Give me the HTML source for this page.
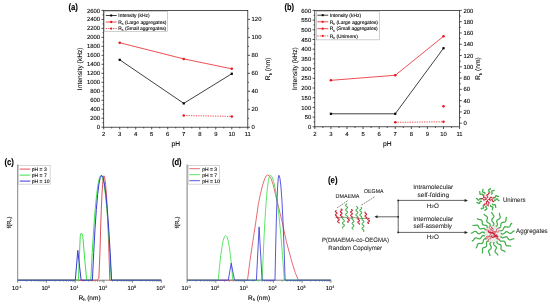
<!DOCTYPE html><html><head><meta charset="utf-8"><title>Figure</title><style>html,body{margin:0;padding:0;background:#fff}svg{display:block;filter:blur(0.28px)}</style></head><body>
<svg width="550" height="304" viewBox="0 0 550 304" font-family="Liberation Sans, sans-serif" text-rendering="geometricPrecision">
<style>text{stroke:#000;stroke-width:0.1px;stroke-linejoin:round}text.e{stroke:#222;stroke-width:0.06px}</style>
<rect width="550" height="304" fill="#fff"/>
<text x="68.4" y="10.4" font-size="9.2" text-anchor="start" fill="#000" font-weight="bold" textLength="9.6" lengthAdjust="spacingAndGlyphs">(a)</text>
<text x="284.4" y="10.4" font-size="9.2" text-anchor="start" fill="#000" font-weight="bold" textLength="9.6" lengthAdjust="spacingAndGlyphs">(b)</text>
<text x="4.4" y="164.6" font-size="9.2" text-anchor="start" fill="#000" font-weight="bold" textLength="9.6" lengthAdjust="spacingAndGlyphs">(c)</text>
<text x="172" y="164.6" font-size="9.2" text-anchor="start" fill="#000" font-weight="bold" textLength="9.6" lengthAdjust="spacingAndGlyphs">(d)</text>
<text x="328" y="183.4" font-size="9.2" text-anchor="start" fill="#000" font-weight="bold" textLength="9.6" lengthAdjust="spacingAndGlyphs">(e)</text>
<rect x="103.7" y="10.4" width="144.1" height="116.8" fill="none" stroke="#1a1a1a" stroke-width="0.75"/>
<line x1="101.5" y1="127.2" x2="103.7" y2="127.2" stroke="#1a1a1a" stroke-width="0.75" />
<text x="100.1" y="129.3" font-size="5.9" text-anchor="end" fill="#000" font-weight="normal" >0</text>
<line x1="102.5" y1="122.71" x2="103.7" y2="122.71" stroke="#1a1a1a" stroke-width="0.75" />
<line x1="101.5" y1="118.22" x2="103.7" y2="118.22" stroke="#1a1a1a" stroke-width="0.75" />
<text x="100.1" y="120.32" font-size="5.9" text-anchor="end" fill="#000" font-weight="normal" >200</text>
<line x1="102.5" y1="113.72" x2="103.7" y2="113.72" stroke="#1a1a1a" stroke-width="0.75" />
<line x1="101.5" y1="109.23" x2="103.7" y2="109.23" stroke="#1a1a1a" stroke-width="0.75" />
<text x="100.1" y="111.33" font-size="5.9" text-anchor="end" fill="#000" font-weight="normal" >400</text>
<line x1="102.5" y1="104.74" x2="103.7" y2="104.74" stroke="#1a1a1a" stroke-width="0.75" />
<line x1="101.5" y1="100.25" x2="103.7" y2="100.25" stroke="#1a1a1a" stroke-width="0.75" />
<text x="100.1" y="102.35" font-size="5.9" text-anchor="end" fill="#000" font-weight="normal" >600</text>
<line x1="102.5" y1="95.75" x2="103.7" y2="95.75" stroke="#1a1a1a" stroke-width="0.75" />
<line x1="101.5" y1="91.26" x2="103.7" y2="91.26" stroke="#1a1a1a" stroke-width="0.75" />
<text x="100.1" y="93.36" font-size="5.9" text-anchor="end" fill="#000" font-weight="normal" >800</text>
<line x1="102.5" y1="86.77" x2="103.7" y2="86.77" stroke="#1a1a1a" stroke-width="0.75" />
<line x1="101.5" y1="82.28" x2="103.7" y2="82.28" stroke="#1a1a1a" stroke-width="0.75" />
<text x="100.1" y="84.38" font-size="5.9" text-anchor="end" fill="#000" font-weight="normal" >1000</text>
<line x1="102.5" y1="77.78" x2="103.7" y2="77.78" stroke="#1a1a1a" stroke-width="0.75" />
<line x1="101.5" y1="73.29" x2="103.7" y2="73.29" stroke="#1a1a1a" stroke-width="0.75" />
<text x="100.1" y="75.39" font-size="5.9" text-anchor="end" fill="#000" font-weight="normal" >1200</text>
<line x1="102.5" y1="68.8" x2="103.7" y2="68.8" stroke="#1a1a1a" stroke-width="0.75" />
<line x1="101.5" y1="64.31" x2="103.7" y2="64.31" stroke="#1a1a1a" stroke-width="0.75" />
<text x="100.1" y="66.41" font-size="5.9" text-anchor="end" fill="#000" font-weight="normal" >1400</text>
<line x1="102.5" y1="59.82" x2="103.7" y2="59.82" stroke="#1a1a1a" stroke-width="0.75" />
<line x1="101.5" y1="55.32" x2="103.7" y2="55.32" stroke="#1a1a1a" stroke-width="0.75" />
<text x="100.1" y="57.42" font-size="5.9" text-anchor="end" fill="#000" font-weight="normal" >1600</text>
<line x1="102.5" y1="50.83" x2="103.7" y2="50.83" stroke="#1a1a1a" stroke-width="0.75" />
<line x1="101.5" y1="46.34" x2="103.7" y2="46.34" stroke="#1a1a1a" stroke-width="0.75" />
<text x="100.1" y="48.44" font-size="5.9" text-anchor="end" fill="#000" font-weight="normal" >1800</text>
<line x1="102.5" y1="41.85" x2="103.7" y2="41.85" stroke="#1a1a1a" stroke-width="0.75" />
<line x1="101.5" y1="37.35" x2="103.7" y2="37.35" stroke="#1a1a1a" stroke-width="0.75" />
<text x="100.1" y="39.45" font-size="5.9" text-anchor="end" fill="#000" font-weight="normal" >2000</text>
<line x1="102.5" y1="32.86" x2="103.7" y2="32.86" stroke="#1a1a1a" stroke-width="0.75" />
<line x1="101.5" y1="28.37" x2="103.7" y2="28.37" stroke="#1a1a1a" stroke-width="0.75" />
<text x="100.1" y="30.47" font-size="5.9" text-anchor="end" fill="#000" font-weight="normal" >2200</text>
<line x1="102.5" y1="23.88" x2="103.7" y2="23.88" stroke="#1a1a1a" stroke-width="0.75" />
<line x1="101.5" y1="19.38" x2="103.7" y2="19.38" stroke="#1a1a1a" stroke-width="0.75" />
<text x="100.1" y="21.48" font-size="5.9" text-anchor="end" fill="#000" font-weight="normal" >2400</text>
<line x1="102.5" y1="14.89" x2="103.7" y2="14.89" stroke="#1a1a1a" stroke-width="0.75" />
<line x1="101.5" y1="10.4" x2="103.7" y2="10.4" stroke="#1a1a1a" stroke-width="0.75" />
<text x="100.1" y="12.5" font-size="5.9" text-anchor="end" fill="#000" font-weight="normal" >2600</text>
<line x1="103.7" y1="127.2" x2="103.7" y2="129.4" stroke="#1a1a1a" stroke-width="0.75" />
<text x="103.7" y="136.15" font-size="5.9" text-anchor="middle" fill="#000" font-weight="normal" >2</text>
<line x1="111.71" y1="127.2" x2="111.71" y2="128.4" stroke="#1a1a1a" stroke-width="0.75" />
<line x1="119.71" y1="127.2" x2="119.71" y2="129.4" stroke="#1a1a1a" stroke-width="0.75" />
<text x="119.71" y="136.15" font-size="5.9" text-anchor="middle" fill="#000" font-weight="normal" >3</text>
<line x1="127.72" y1="127.2" x2="127.72" y2="128.4" stroke="#1a1a1a" stroke-width="0.75" />
<line x1="135.72" y1="127.2" x2="135.72" y2="129.4" stroke="#1a1a1a" stroke-width="0.75" />
<text x="135.72" y="136.15" font-size="5.9" text-anchor="middle" fill="#000" font-weight="normal" >4</text>
<line x1="143.73" y1="127.2" x2="143.73" y2="128.4" stroke="#1a1a1a" stroke-width="0.75" />
<line x1="151.73" y1="127.2" x2="151.73" y2="129.4" stroke="#1a1a1a" stroke-width="0.75" />
<text x="151.73" y="136.15" font-size="5.9" text-anchor="middle" fill="#000" font-weight="normal" >5</text>
<line x1="159.74" y1="127.2" x2="159.74" y2="128.4" stroke="#1a1a1a" stroke-width="0.75" />
<line x1="167.74" y1="127.2" x2="167.74" y2="129.4" stroke="#1a1a1a" stroke-width="0.75" />
<text x="167.74" y="136.15" font-size="5.9" text-anchor="middle" fill="#000" font-weight="normal" >6</text>
<line x1="175.75" y1="127.2" x2="175.75" y2="128.4" stroke="#1a1a1a" stroke-width="0.75" />
<line x1="183.76" y1="127.2" x2="183.76" y2="129.4" stroke="#1a1a1a" stroke-width="0.75" />
<text x="183.76" y="136.15" font-size="5.9" text-anchor="middle" fill="#000" font-weight="normal" >7</text>
<line x1="191.76" y1="127.2" x2="191.76" y2="128.4" stroke="#1a1a1a" stroke-width="0.75" />
<line x1="199.77" y1="127.2" x2="199.77" y2="129.4" stroke="#1a1a1a" stroke-width="0.75" />
<text x="199.77" y="136.15" font-size="5.9" text-anchor="middle" fill="#000" font-weight="normal" >8</text>
<line x1="207.77" y1="127.2" x2="207.77" y2="128.4" stroke="#1a1a1a" stroke-width="0.75" />
<line x1="215.78" y1="127.2" x2="215.78" y2="129.4" stroke="#1a1a1a" stroke-width="0.75" />
<text x="215.78" y="136.15" font-size="5.9" text-anchor="middle" fill="#000" font-weight="normal" >9</text>
<line x1="223.78" y1="127.2" x2="223.78" y2="128.4" stroke="#1a1a1a" stroke-width="0.75" />
<line x1="231.79" y1="127.2" x2="231.79" y2="129.4" stroke="#1a1a1a" stroke-width="0.75" />
<text x="231.79" y="136.15" font-size="5.9" text-anchor="middle" fill="#000" font-weight="normal" >10</text>
<line x1="239.79" y1="127.2" x2="239.79" y2="128.4" stroke="#1a1a1a" stroke-width="0.75" />
<line x1="247.8" y1="127.2" x2="247.8" y2="129.4" stroke="#1a1a1a" stroke-width="0.75" />
<text x="247.8" y="136.15" font-size="5.9" text-anchor="middle" fill="#000" font-weight="normal" >11</text>
<line x1="247.8" y1="127.2" x2="250" y2="127.2" stroke="#1a1a1a" stroke-width="0.75" />
<text x="251.6" y="129.3" font-size="5.9" text-anchor="start" fill="#000" font-weight="normal" >0</text>
<line x1="247.8" y1="109.23" x2="250" y2="109.23" stroke="#1a1a1a" stroke-width="0.75" />
<text x="251.6" y="111.33" font-size="5.9" text-anchor="start" fill="#000" font-weight="normal" >20</text>
<line x1="247.8" y1="91.26" x2="250" y2="91.26" stroke="#1a1a1a" stroke-width="0.75" />
<text x="251.6" y="93.36" font-size="5.9" text-anchor="start" fill="#000" font-weight="normal" >40</text>
<line x1="247.8" y1="73.29" x2="250" y2="73.29" stroke="#1a1a1a" stroke-width="0.75" />
<text x="251.6" y="75.39" font-size="5.9" text-anchor="start" fill="#000" font-weight="normal" >60</text>
<line x1="247.8" y1="55.32" x2="250" y2="55.32" stroke="#1a1a1a" stroke-width="0.75" />
<text x="251.6" y="57.42" font-size="5.9" text-anchor="start" fill="#000" font-weight="normal" >80</text>
<line x1="247.8" y1="37.35" x2="250" y2="37.35" stroke="#1a1a1a" stroke-width="0.75" />
<text x="251.6" y="39.45" font-size="5.9" text-anchor="start" fill="#000" font-weight="normal" >100</text>
<line x1="247.8" y1="19.38" x2="250" y2="19.38" stroke="#1a1a1a" stroke-width="0.75" />
<text x="251.6" y="21.48" font-size="5.9" text-anchor="start" fill="#000" font-weight="normal" >120</text>
<line x1="247.8" y1="118.22" x2="249" y2="118.22" stroke="#1a1a1a" stroke-width="0.75" />
<line x1="247.8" y1="100.25" x2="249" y2="100.25" stroke="#1a1a1a" stroke-width="0.75" />
<line x1="247.8" y1="82.28" x2="249" y2="82.28" stroke="#1a1a1a" stroke-width="0.75" />
<line x1="247.8" y1="64.31" x2="249" y2="64.31" stroke="#1a1a1a" stroke-width="0.75" />
<line x1="247.8" y1="46.34" x2="249" y2="46.34" stroke="#1a1a1a" stroke-width="0.75" />
<line x1="247.8" y1="28.37" x2="249" y2="28.37" stroke="#1a1a1a" stroke-width="0.75" />
<text x="82.2" y="68.8" font-size="6.7" text-anchor="middle" fill="#000" font-weight="normal" transform="rotate(-90 82.2 68.8)" >Intensity (kHz)</text>
<text x="270.3" y="68.8" font-size="6.7" text-anchor="middle" fill="#000" font-weight="normal" transform="rotate(-90 270.3 68.8)" >R<tspan font-size="4.15" dy="1.47">h</tspan><tspan dy="-1.47"> (nm)</tspan></text>
<text x="175.75" y="146.4" font-size="6.7" text-anchor="middle" fill="#000" font-weight="normal" >pH</text>
<polyline fill="none" stroke="#000" stroke-width="0.75" stroke-linejoin="round" points="119.71,59.82 183.76,103.39 231.79,73.74" />
<rect x="118.61" y="58.72" width="2.2" height="2.2" fill="#000"/>
<rect x="182.66" y="102.29" width="2.2" height="2.2" fill="#000"/>
<rect x="230.69" y="72.64" width="2.2" height="2.2" fill="#000"/>
<polyline fill="none" stroke="#e8141c" stroke-width="0.75" stroke-linejoin="round" points="119.71,42.74 183.76,58.92 231.79,68.8" />
<circle cx="119.71" cy="42.74" r="1.25" fill="#e8141c"/>
<circle cx="183.76" cy="58.92" r="1.25" fill="#e8141c"/>
<circle cx="231.79" cy="68.8" r="1.25" fill="#e8141c"/>
<polyline fill="none" stroke="#e8141c" stroke-width="0.75" stroke-linejoin="round" points="183.76,115.52 231.79,116.42" stroke-dasharray="1.3 1.1"/>
<circle cx="183.76" cy="115.52" r="1.25" fill="#e8141c"/>
<circle cx="231.79" cy="116.42" r="1.25" fill="#e8141c"/>
<rect x="104.7" y="11.5" width="62.9" height="20.1" fill="#fff" stroke="#888" stroke-width="0.4"/>
<line x1="105.8" y1="15.5" x2="116.7" y2="15.5" stroke="#000" stroke-width="0.75" />
<rect x="110.2" y="14.5" width="2" height="2" fill="#000"/>
<text x="118.3" y="17.25" font-size="4.9" text-anchor="start" fill="#000" font-weight="normal" >Intensity (kHz)</text>
<line x1="105.8" y1="22" x2="116.7" y2="22" stroke="#e8141c" stroke-width="0.75" />
<circle cx="111.2" cy="22" r="1.15" fill="#e8141c"/>
<text x="118.3" y="23.75" font-size="4.9" text-anchor="start" fill="#000" font-weight="normal" >R<tspan font-size="3.04" dy="1.08">h</tspan><tspan dy="-1.08"> (Large aggregates)</tspan></text>
<line x1="105.8" y1="28.6" x2="116.7" y2="28.6" stroke="#e8141c" stroke-width="0.75" stroke-dasharray="1.3 1.1"/>
<circle cx="111.2" cy="28.6" r="1.15" fill="#e8141c"/>
<text x="118.3" y="30.35" font-size="4.9" text-anchor="start" fill="#000" font-weight="normal" >R<tspan font-size="3.04" dy="1.08">h</tspan><tspan dy="-1.08"> (Small aggregates)</tspan></text>
<rect x="314.8" y="10.4" width="144.8" height="116.4" fill="none" stroke="#1a1a1a" stroke-width="0.75"/>
<line x1="312.6" y1="126.8" x2="314.8" y2="126.8" stroke="#1a1a1a" stroke-width="0.75" />
<text x="311.2" y="128.9" font-size="5.9" text-anchor="end" fill="#000" font-weight="normal" >0</text>
<line x1="313.6" y1="121.95" x2="314.8" y2="121.95" stroke="#1a1a1a" stroke-width="0.75" />
<line x1="312.6" y1="117.1" x2="314.8" y2="117.1" stroke="#1a1a1a" stroke-width="0.75" />
<text x="311.2" y="119.2" font-size="5.9" text-anchor="end" fill="#000" font-weight="normal" >50</text>
<line x1="313.6" y1="112.25" x2="314.8" y2="112.25" stroke="#1a1a1a" stroke-width="0.75" />
<line x1="312.6" y1="107.4" x2="314.8" y2="107.4" stroke="#1a1a1a" stroke-width="0.75" />
<text x="311.2" y="109.5" font-size="5.9" text-anchor="end" fill="#000" font-weight="normal" >100</text>
<line x1="313.6" y1="102.55" x2="314.8" y2="102.55" stroke="#1a1a1a" stroke-width="0.75" />
<line x1="312.6" y1="97.7" x2="314.8" y2="97.7" stroke="#1a1a1a" stroke-width="0.75" />
<text x="311.2" y="99.8" font-size="5.9" text-anchor="end" fill="#000" font-weight="normal" >150</text>
<line x1="313.6" y1="92.85" x2="314.8" y2="92.85" stroke="#1a1a1a" stroke-width="0.75" />
<line x1="312.6" y1="88" x2="314.8" y2="88" stroke="#1a1a1a" stroke-width="0.75" />
<text x="311.2" y="90.1" font-size="5.9" text-anchor="end" fill="#000" font-weight="normal" >200</text>
<line x1="313.6" y1="83.15" x2="314.8" y2="83.15" stroke="#1a1a1a" stroke-width="0.75" />
<line x1="312.6" y1="78.3" x2="314.8" y2="78.3" stroke="#1a1a1a" stroke-width="0.75" />
<text x="311.2" y="80.4" font-size="5.9" text-anchor="end" fill="#000" font-weight="normal" >250</text>
<line x1="313.6" y1="73.45" x2="314.8" y2="73.45" stroke="#1a1a1a" stroke-width="0.75" />
<line x1="312.6" y1="68.6" x2="314.8" y2="68.6" stroke="#1a1a1a" stroke-width="0.75" />
<text x="311.2" y="70.7" font-size="5.9" text-anchor="end" fill="#000" font-weight="normal" >300</text>
<line x1="313.6" y1="63.75" x2="314.8" y2="63.75" stroke="#1a1a1a" stroke-width="0.75" />
<line x1="312.6" y1="58.9" x2="314.8" y2="58.9" stroke="#1a1a1a" stroke-width="0.75" />
<text x="311.2" y="61" font-size="5.9" text-anchor="end" fill="#000" font-weight="normal" >350</text>
<line x1="313.6" y1="54.05" x2="314.8" y2="54.05" stroke="#1a1a1a" stroke-width="0.75" />
<line x1="312.6" y1="49.2" x2="314.8" y2="49.2" stroke="#1a1a1a" stroke-width="0.75" />
<text x="311.2" y="51.3" font-size="5.9" text-anchor="end" fill="#000" font-weight="normal" >400</text>
<line x1="313.6" y1="44.35" x2="314.8" y2="44.35" stroke="#1a1a1a" stroke-width="0.75" />
<line x1="312.6" y1="39.5" x2="314.8" y2="39.5" stroke="#1a1a1a" stroke-width="0.75" />
<text x="311.2" y="41.6" font-size="5.9" text-anchor="end" fill="#000" font-weight="normal" >450</text>
<line x1="313.6" y1="34.65" x2="314.8" y2="34.65" stroke="#1a1a1a" stroke-width="0.75" />
<line x1="312.6" y1="29.8" x2="314.8" y2="29.8" stroke="#1a1a1a" stroke-width="0.75" />
<text x="311.2" y="31.9" font-size="5.9" text-anchor="end" fill="#000" font-weight="normal" >500</text>
<line x1="313.6" y1="24.95" x2="314.8" y2="24.95" stroke="#1a1a1a" stroke-width="0.75" />
<line x1="312.6" y1="20.1" x2="314.8" y2="20.1" stroke="#1a1a1a" stroke-width="0.75" />
<text x="311.2" y="22.2" font-size="5.9" text-anchor="end" fill="#000" font-weight="normal" >550</text>
<line x1="313.6" y1="15.25" x2="314.8" y2="15.25" stroke="#1a1a1a" stroke-width="0.75" />
<line x1="312.6" y1="10.4" x2="314.8" y2="10.4" stroke="#1a1a1a" stroke-width="0.75" />
<text x="311.2" y="12.5" font-size="5.9" text-anchor="end" fill="#000" font-weight="normal" >600</text>
<line x1="314.8" y1="126.8" x2="314.8" y2="129" stroke="#1a1a1a" stroke-width="0.75" />
<text x="314.8" y="135.75" font-size="5.9" text-anchor="middle" fill="#000" font-weight="normal" >2</text>
<line x1="322.84" y1="126.8" x2="322.84" y2="128" stroke="#1a1a1a" stroke-width="0.75" />
<line x1="330.89" y1="126.8" x2="330.89" y2="129" stroke="#1a1a1a" stroke-width="0.75" />
<text x="330.89" y="135.75" font-size="5.9" text-anchor="middle" fill="#000" font-weight="normal" >3</text>
<line x1="338.93" y1="126.8" x2="338.93" y2="128" stroke="#1a1a1a" stroke-width="0.75" />
<line x1="346.98" y1="126.8" x2="346.98" y2="129" stroke="#1a1a1a" stroke-width="0.75" />
<text x="346.98" y="135.75" font-size="5.9" text-anchor="middle" fill="#000" font-weight="normal" >4</text>
<line x1="355.02" y1="126.8" x2="355.02" y2="128" stroke="#1a1a1a" stroke-width="0.75" />
<line x1="363.07" y1="126.8" x2="363.07" y2="129" stroke="#1a1a1a" stroke-width="0.75" />
<text x="363.07" y="135.75" font-size="5.9" text-anchor="middle" fill="#000" font-weight="normal" >5</text>
<line x1="371.11" y1="126.8" x2="371.11" y2="128" stroke="#1a1a1a" stroke-width="0.75" />
<line x1="379.16" y1="126.8" x2="379.16" y2="129" stroke="#1a1a1a" stroke-width="0.75" />
<text x="379.16" y="135.75" font-size="5.9" text-anchor="middle" fill="#000" font-weight="normal" >6</text>
<line x1="387.2" y1="126.8" x2="387.2" y2="128" stroke="#1a1a1a" stroke-width="0.75" />
<line x1="395.24" y1="126.8" x2="395.24" y2="129" stroke="#1a1a1a" stroke-width="0.75" />
<text x="395.24" y="135.75" font-size="5.9" text-anchor="middle" fill="#000" font-weight="normal" >7</text>
<line x1="403.29" y1="126.8" x2="403.29" y2="128" stroke="#1a1a1a" stroke-width="0.75" />
<line x1="411.33" y1="126.8" x2="411.33" y2="129" stroke="#1a1a1a" stroke-width="0.75" />
<text x="411.33" y="135.75" font-size="5.9" text-anchor="middle" fill="#000" font-weight="normal" >8</text>
<line x1="419.38" y1="126.8" x2="419.38" y2="128" stroke="#1a1a1a" stroke-width="0.75" />
<line x1="427.42" y1="126.8" x2="427.42" y2="129" stroke="#1a1a1a" stroke-width="0.75" />
<text x="427.42" y="135.75" font-size="5.9" text-anchor="middle" fill="#000" font-weight="normal" >9</text>
<line x1="435.47" y1="126.8" x2="435.47" y2="128" stroke="#1a1a1a" stroke-width="0.75" />
<line x1="443.51" y1="126.8" x2="443.51" y2="129" stroke="#1a1a1a" stroke-width="0.75" />
<text x="443.51" y="135.75" font-size="5.9" text-anchor="middle" fill="#000" font-weight="normal" >10</text>
<line x1="451.56" y1="126.8" x2="451.56" y2="128" stroke="#1a1a1a" stroke-width="0.75" />
<line x1="459.6" y1="126.8" x2="459.6" y2="129" stroke="#1a1a1a" stroke-width="0.75" />
<text x="459.6" y="135.75" font-size="5.9" text-anchor="middle" fill="#000" font-weight="normal" >11</text>
<line x1="459.6" y1="123.19" x2="461.8" y2="123.19" stroke="#1a1a1a" stroke-width="0.75" />
<text x="463.4" y="125.29" font-size="5.9" text-anchor="start" fill="#000" font-weight="normal" >0</text>
<line x1="459.6" y1="111.91" x2="461.8" y2="111.91" stroke="#1a1a1a" stroke-width="0.75" />
<text x="463.4" y="114.01" font-size="5.9" text-anchor="start" fill="#000" font-weight="normal" >20</text>
<line x1="459.6" y1="100.63" x2="461.8" y2="100.63" stroke="#1a1a1a" stroke-width="0.75" />
<text x="463.4" y="102.73" font-size="5.9" text-anchor="start" fill="#000" font-weight="normal" >40</text>
<line x1="459.6" y1="89.35" x2="461.8" y2="89.35" stroke="#1a1a1a" stroke-width="0.75" />
<text x="463.4" y="91.45" font-size="5.9" text-anchor="start" fill="#000" font-weight="normal" >60</text>
<line x1="459.6" y1="78.07" x2="461.8" y2="78.07" stroke="#1a1a1a" stroke-width="0.75" />
<text x="463.4" y="80.17" font-size="5.9" text-anchor="start" fill="#000" font-weight="normal" >80</text>
<line x1="459.6" y1="66.8" x2="461.8" y2="66.8" stroke="#1a1a1a" stroke-width="0.75" />
<text x="463.4" y="68.9" font-size="5.9" text-anchor="start" fill="#000" font-weight="normal" >100</text>
<line x1="459.6" y1="55.52" x2="461.8" y2="55.52" stroke="#1a1a1a" stroke-width="0.75" />
<text x="463.4" y="57.62" font-size="5.9" text-anchor="start" fill="#000" font-weight="normal" >120</text>
<line x1="459.6" y1="44.24" x2="461.8" y2="44.24" stroke="#1a1a1a" stroke-width="0.75" />
<text x="463.4" y="46.34" font-size="5.9" text-anchor="start" fill="#000" font-weight="normal" >140</text>
<line x1="459.6" y1="32.96" x2="461.8" y2="32.96" stroke="#1a1a1a" stroke-width="0.75" />
<text x="463.4" y="35.06" font-size="5.9" text-anchor="start" fill="#000" font-weight="normal" >160</text>
<line x1="459.6" y1="21.68" x2="461.8" y2="21.68" stroke="#1a1a1a" stroke-width="0.75" />
<text x="463.4" y="23.78" font-size="5.9" text-anchor="start" fill="#000" font-weight="normal" >180</text>
<line x1="459.6" y1="10.4" x2="461.8" y2="10.4" stroke="#1a1a1a" stroke-width="0.75" />
<text x="463.4" y="12.5" font-size="5.9" text-anchor="start" fill="#000" font-weight="normal" >200</text>
<line x1="459.6" y1="117.55" x2="460.8" y2="117.55" stroke="#1a1a1a" stroke-width="0.75" />
<line x1="459.6" y1="106.27" x2="460.8" y2="106.27" stroke="#1a1a1a" stroke-width="0.75" />
<line x1="459.6" y1="94.99" x2="460.8" y2="94.99" stroke="#1a1a1a" stroke-width="0.75" />
<line x1="459.6" y1="83.71" x2="460.8" y2="83.71" stroke="#1a1a1a" stroke-width="0.75" />
<line x1="459.6" y1="72.43" x2="460.8" y2="72.43" stroke="#1a1a1a" stroke-width="0.75" />
<line x1="459.6" y1="61.16" x2="460.8" y2="61.16" stroke="#1a1a1a" stroke-width="0.75" />
<line x1="459.6" y1="49.88" x2="460.8" y2="49.88" stroke="#1a1a1a" stroke-width="0.75" />
<line x1="459.6" y1="38.6" x2="460.8" y2="38.6" stroke="#1a1a1a" stroke-width="0.75" />
<line x1="459.6" y1="27.32" x2="460.8" y2="27.32" stroke="#1a1a1a" stroke-width="0.75" />
<line x1="459.6" y1="16.04" x2="460.8" y2="16.04" stroke="#1a1a1a" stroke-width="0.75" />
<text x="296.6" y="68.6" font-size="6.7" text-anchor="middle" fill="#000" font-weight="normal" transform="rotate(-90 296.6 68.6)" >Intensity (kHz)</text>
<text x="480.2" y="68.6" font-size="6.7" text-anchor="middle" fill="#000" font-weight="normal" transform="rotate(-90 480.2 68.6)" >R<tspan font-size="4.15" dy="1.47">h</tspan><tspan dy="-1.47"> (nm)</tspan></text>
<text x="387.2" y="146" font-size="6.7" text-anchor="middle" fill="#000" font-weight="normal" >pH</text>
<polyline fill="none" stroke="#000" stroke-width="0.75" stroke-linejoin="round" points="330.89,113.8 395.24,113.8 443.51,48.23" />
<rect x="329.79" y="112.7" width="2.2" height="2.2" fill="#000"/>
<rect x="394.14" y="112.7" width="2.2" height="2.2" fill="#000"/>
<rect x="442.41" y="47.13" width="2.2" height="2.2" fill="#000"/>
<polyline fill="none" stroke="#e8141c" stroke-width="0.75" stroke-linejoin="round" points="330.89,80.33 395.24,75.25 443.51,36.34" />
<circle cx="330.89" cy="80.33" r="1.25" fill="#e8141c"/>
<circle cx="395.24" cy="75.25" r="1.25" fill="#e8141c"/>
<circle cx="443.51" cy="36.34" r="1.25" fill="#e8141c"/>
<circle cx="443.51" cy="106.27" r="1.25" fill="#e8141c"/>
<polyline fill="none" stroke="#e8141c" stroke-width="0.75" stroke-linejoin="round" points="395.24,122.34 443.51,121.78" stroke-dasharray="1.3 1.1"/>
<circle cx="395.24" cy="122.34" r="1.25" fill="#e8141c"/>
<circle cx="443.51" cy="121.78" r="1.25" fill="#e8141c"/>
<rect x="316.2" y="11.6" width="63.2" height="28.3" fill="#fff" stroke="#888" stroke-width="0.4"/>
<line x1="317.3" y1="15.2" x2="328.2" y2="15.2" stroke="#000" stroke-width="0.75" />
<rect x="321.7" y="14.2" width="2" height="2" fill="#000"/>
<text x="329.8" y="16.95" font-size="4.9" text-anchor="start" fill="#000" font-weight="normal" >Intensity (kHz)</text>
<line x1="317.3" y1="21.8" x2="328.2" y2="21.8" stroke="#e8141c" stroke-width="0.75" />
<circle cx="322.7" cy="21.8" r="1.15" fill="#e8141c"/>
<text x="329.8" y="23.55" font-size="4.9" text-anchor="start" fill="#000" font-weight="normal" >R<tspan font-size="3.04" dy="1.08">h</tspan><tspan dy="-1.08"> (Large aggregates)</tspan></text>
<line x1="317.3" y1="28.7" x2="328.2" y2="28.7" stroke="#e8141c" stroke-width="0.75" />
<circle cx="322.7" cy="28.7" r="1.15" fill="#e8141c"/>
<text x="329.8" y="30.45" font-size="4.9" text-anchor="start" fill="#000" font-weight="normal" >R<tspan font-size="3.04" dy="1.08">h</tspan><tspan dy="-1.08"> (Small aggregates)</tspan></text>
<line x1="317.3" y1="35.9" x2="328.2" y2="35.9" stroke="#e8141c" stroke-width="0.75" stroke-dasharray="1.3 1.1"/>
<circle cx="322.7" cy="35.9" r="1.15" fill="#e8141c"/>
<text x="329.8" y="37.65" font-size="4.9" text-anchor="start" fill="#000" font-weight="normal" >R<tspan font-size="3.04" dy="1.08">h</tspan><tspan dy="-1.08"> (Unimers)</tspan></text>
<line x1="17.7" y1="164.5" x2="17.7" y2="280.2" stroke="#777" stroke-width="0.9" />
<line x1="17.7" y1="280.2" x2="161.3" y2="280.2" stroke="#777" stroke-width="0.9" />
<line x1="17.7" y1="280.2" x2="17.7" y2="282.7" stroke="#666" stroke-width="0.8" />
<text x="16.9" y="290.4" font-size="5.8" text-anchor="middle">10<tspan font-size="3.6" dy="-2.6">-1</tspan></text>
<line x1="26.35" y1="280.2" x2="26.35" y2="281.7" stroke="#666" stroke-width="0.6" />
<line x1="31.4" y1="280.2" x2="31.4" y2="281.7" stroke="#666" stroke-width="0.6" />
<line x1="34.99" y1="280.2" x2="34.99" y2="281.7" stroke="#666" stroke-width="0.6" />
<line x1="37.77" y1="280.2" x2="37.77" y2="281.7" stroke="#666" stroke-width="0.6" />
<line x1="40.05" y1="280.2" x2="40.05" y2="281.7" stroke="#666" stroke-width="0.6" />
<line x1="41.97" y1="280.2" x2="41.97" y2="281.7" stroke="#666" stroke-width="0.6" />
<line x1="43.64" y1="280.2" x2="43.64" y2="281.7" stroke="#666" stroke-width="0.6" />
<line x1="45.11" y1="280.2" x2="45.11" y2="281.7" stroke="#666" stroke-width="0.6" />
<line x1="46.42" y1="280.2" x2="46.42" y2="282.7" stroke="#666" stroke-width="0.8" />
<text x="45.62" y="290.4" font-size="5.8" text-anchor="middle">10<tspan font-size="3.6" dy="-2.6">0</tspan></text>
<line x1="55.07" y1="280.2" x2="55.07" y2="281.7" stroke="#666" stroke-width="0.6" />
<line x1="60.12" y1="280.2" x2="60.12" y2="281.7" stroke="#666" stroke-width="0.6" />
<line x1="63.71" y1="280.2" x2="63.71" y2="281.7" stroke="#666" stroke-width="0.6" />
<line x1="66.49" y1="280.2" x2="66.49" y2="281.7" stroke="#666" stroke-width="0.6" />
<line x1="68.77" y1="280.2" x2="68.77" y2="281.7" stroke="#666" stroke-width="0.6" />
<line x1="70.69" y1="280.2" x2="70.69" y2="281.7" stroke="#666" stroke-width="0.6" />
<line x1="72.36" y1="280.2" x2="72.36" y2="281.7" stroke="#666" stroke-width="0.6" />
<line x1="73.83" y1="280.2" x2="73.83" y2="281.7" stroke="#666" stroke-width="0.6" />
<line x1="75.14" y1="280.2" x2="75.14" y2="282.7" stroke="#666" stroke-width="0.8" />
<text x="74.34" y="290.4" font-size="5.8" text-anchor="middle">10<tspan font-size="3.6" dy="-2.6">1</tspan></text>
<line x1="83.79" y1="280.2" x2="83.79" y2="281.7" stroke="#666" stroke-width="0.6" />
<line x1="88.84" y1="280.2" x2="88.84" y2="281.7" stroke="#666" stroke-width="0.6" />
<line x1="92.43" y1="280.2" x2="92.43" y2="281.7" stroke="#666" stroke-width="0.6" />
<line x1="95.21" y1="280.2" x2="95.21" y2="281.7" stroke="#666" stroke-width="0.6" />
<line x1="97.49" y1="280.2" x2="97.49" y2="281.7" stroke="#666" stroke-width="0.6" />
<line x1="99.41" y1="280.2" x2="99.41" y2="281.7" stroke="#666" stroke-width="0.6" />
<line x1="101.08" y1="280.2" x2="101.08" y2="281.7" stroke="#666" stroke-width="0.6" />
<line x1="102.55" y1="280.2" x2="102.55" y2="281.7" stroke="#666" stroke-width="0.6" />
<line x1="103.86" y1="280.2" x2="103.86" y2="282.7" stroke="#666" stroke-width="0.8" />
<text x="103.06" y="290.4" font-size="5.8" text-anchor="middle">10<tspan font-size="3.6" dy="-2.6">2</tspan></text>
<line x1="112.51" y1="280.2" x2="112.51" y2="281.7" stroke="#666" stroke-width="0.6" />
<line x1="117.56" y1="280.2" x2="117.56" y2="281.7" stroke="#666" stroke-width="0.6" />
<line x1="121.15" y1="280.2" x2="121.15" y2="281.7" stroke="#666" stroke-width="0.6" />
<line x1="123.93" y1="280.2" x2="123.93" y2="281.7" stroke="#666" stroke-width="0.6" />
<line x1="126.21" y1="280.2" x2="126.21" y2="281.7" stroke="#666" stroke-width="0.6" />
<line x1="128.13" y1="280.2" x2="128.13" y2="281.7" stroke="#666" stroke-width="0.6" />
<line x1="129.8" y1="280.2" x2="129.8" y2="281.7" stroke="#666" stroke-width="0.6" />
<line x1="131.27" y1="280.2" x2="131.27" y2="281.7" stroke="#666" stroke-width="0.6" />
<line x1="132.58" y1="280.2" x2="132.58" y2="282.7" stroke="#666" stroke-width="0.8" />
<text x="131.78" y="290.4" font-size="5.8" text-anchor="middle">10<tspan font-size="3.6" dy="-2.6">3</tspan></text>
<line x1="141.23" y1="280.2" x2="141.23" y2="281.7" stroke="#666" stroke-width="0.6" />
<line x1="146.28" y1="280.2" x2="146.28" y2="281.7" stroke="#666" stroke-width="0.6" />
<line x1="149.87" y1="280.2" x2="149.87" y2="281.7" stroke="#666" stroke-width="0.6" />
<line x1="152.65" y1="280.2" x2="152.65" y2="281.7" stroke="#666" stroke-width="0.6" />
<line x1="154.93" y1="280.2" x2="154.93" y2="281.7" stroke="#666" stroke-width="0.6" />
<line x1="156.85" y1="280.2" x2="156.85" y2="281.7" stroke="#666" stroke-width="0.6" />
<line x1="158.52" y1="280.2" x2="158.52" y2="281.7" stroke="#666" stroke-width="0.6" />
<line x1="159.99" y1="280.2" x2="159.99" y2="281.7" stroke="#666" stroke-width="0.6" />
<line x1="161.3" y1="280.2" x2="161.3" y2="282.7" stroke="#666" stroke-width="0.8" />
<text x="160.5" y="290.4" font-size="5.8" text-anchor="middle">10<tspan font-size="3.6" dy="-2.6">4</tspan></text>
<text x="89.5" y="299.8" font-size="6.5" text-anchor="middle" fill="#000" font-weight="normal" >R<tspan font-size="4.03" dy="1.43">h</tspan><tspan dy="-1.43"> (nm)</tspan></text>
<text x="10.6" y="222.35" font-size="5.8" text-anchor="middle" fill="#000" font-weight="normal" transform="rotate(-90 10.6 222.35)" >f(R<tspan font-size="3.6" dy="1.3">h</tspan><tspan dy="-1.3">)</tspan></text>
<polyline fill="none" stroke="#e0525a" stroke-width="1.0" stroke-linejoin="round" points="17.7,280.2 97,280.2 98.8,278.6 99.96,252.5 100.61,229.07 101.27,209.89 101.93,194.98 102.59,184.32 103.24,177.93 103.9,175.8 104.74,177.93 105.59,184.32 106.43,194.98 107.27,209.89 108.11,229.07 108.96,252.5 109.8,280.2 161.3,280.2" />
<polyline fill="none" stroke="#3fe04a" stroke-width="1.0" stroke-linejoin="round" points="17.7,280.2 78.4,280.2 79.4,256 80.3,235 81.5,233 82.8,236 84.6,258 86.7,280.2 90.8,280.2 92.26,252.37 93.71,228.82 95.17,209.55 96.63,194.57 98.09,183.86 99.54,177.44 101,175.3 102.47,177.44 103.94,183.86 105.41,194.57 106.89,209.55 108.36,228.82 109.83,252.37 111.3,280.2 161.3,280.2" />
<polyline fill="none" stroke="#3a3ad8" stroke-width="1.0" stroke-linejoin="round" points="17.7,280.2 75.3,280.2 77.8,250.4 81.1,280.2 92.4,280.2 93.71,252.37 95.03,228.82 96.34,209.55 97.66,194.57 98.97,183.86 100.29,177.44 101.6,175.3 103.03,177.44 104.46,183.86 105.89,194.57 107.31,209.55 108.74,228.82 110.17,252.37 111.6,280.2 161.3,280.2" />
<rect x="18.5" y="165.5" width="31.6" height="18.6" fill="#fff" stroke="#999" stroke-width="0.4"/>
<line x1="19.7" y1="169.1" x2="30.3" y2="169.1" stroke="#e0525a" stroke-width="1.0" />
<text x="31.8" y="170.9" font-size="5.0" text-anchor="start" fill="#000" font-weight="normal" >pH = 3</text>
<line x1="19.7" y1="175.1" x2="30.3" y2="175.1" stroke="#3fe04a" stroke-width="1.0" />
<text x="31.8" y="176.9" font-size="5.0" text-anchor="start" fill="#000" font-weight="normal" >pH = 7</text>
<line x1="19.7" y1="181.1" x2="30.3" y2="181.1" stroke="#3a3ad8" stroke-width="1.0" />
<text x="31.8" y="182.9" font-size="5.0" text-anchor="start" fill="#000" font-weight="normal" >pH = 10</text>
<line x1="187.1" y1="164.5" x2="187.1" y2="280.2" stroke="#5a5a5a" stroke-width="0.8" />
<line x1="187.1" y1="280.2" x2="330.9" y2="280.2" stroke="#5a5a5a" stroke-width="0.8" />
<line x1="187.1" y1="280.2" x2="187.1" y2="282.7" stroke="#666" stroke-width="0.8" />
<text x="186.3" y="290.4" font-size="5.8" text-anchor="middle">10<tspan font-size="3.6" dy="-2.6">-1</tspan></text>
<line x1="195.76" y1="280.2" x2="195.76" y2="281.7" stroke="#666" stroke-width="0.6" />
<line x1="200.82" y1="280.2" x2="200.82" y2="281.7" stroke="#666" stroke-width="0.6" />
<line x1="204.42" y1="280.2" x2="204.42" y2="281.7" stroke="#666" stroke-width="0.6" />
<line x1="207.2" y1="280.2" x2="207.2" y2="281.7" stroke="#666" stroke-width="0.6" />
<line x1="209.48" y1="280.2" x2="209.48" y2="281.7" stroke="#666" stroke-width="0.6" />
<line x1="211.41" y1="280.2" x2="211.41" y2="281.7" stroke="#666" stroke-width="0.6" />
<line x1="213.07" y1="280.2" x2="213.07" y2="281.7" stroke="#666" stroke-width="0.6" />
<line x1="214.54" y1="280.2" x2="214.54" y2="281.7" stroke="#666" stroke-width="0.6" />
<line x1="215.86" y1="280.2" x2="215.86" y2="282.7" stroke="#666" stroke-width="0.8" />
<text x="215.06" y="290.4" font-size="5.8" text-anchor="middle">10<tspan font-size="3.6" dy="-2.6">0</tspan></text>
<line x1="224.52" y1="280.2" x2="224.52" y2="281.7" stroke="#666" stroke-width="0.6" />
<line x1="229.58" y1="280.2" x2="229.58" y2="281.7" stroke="#666" stroke-width="0.6" />
<line x1="233.18" y1="280.2" x2="233.18" y2="281.7" stroke="#666" stroke-width="0.6" />
<line x1="235.96" y1="280.2" x2="235.96" y2="281.7" stroke="#666" stroke-width="0.6" />
<line x1="238.24" y1="280.2" x2="238.24" y2="281.7" stroke="#666" stroke-width="0.6" />
<line x1="240.17" y1="280.2" x2="240.17" y2="281.7" stroke="#666" stroke-width="0.6" />
<line x1="241.83" y1="280.2" x2="241.83" y2="281.7" stroke="#666" stroke-width="0.6" />
<line x1="243.3" y1="280.2" x2="243.3" y2="281.7" stroke="#666" stroke-width="0.6" />
<line x1="244.62" y1="280.2" x2="244.62" y2="282.7" stroke="#666" stroke-width="0.8" />
<text x="243.82" y="290.4" font-size="5.8" text-anchor="middle">10<tspan font-size="3.6" dy="-2.6">1</tspan></text>
<line x1="253.28" y1="280.2" x2="253.28" y2="281.7" stroke="#666" stroke-width="0.6" />
<line x1="258.34" y1="280.2" x2="258.34" y2="281.7" stroke="#666" stroke-width="0.6" />
<line x1="261.94" y1="280.2" x2="261.94" y2="281.7" stroke="#666" stroke-width="0.6" />
<line x1="264.72" y1="280.2" x2="264.72" y2="281.7" stroke="#666" stroke-width="0.6" />
<line x1="267" y1="280.2" x2="267" y2="281.7" stroke="#666" stroke-width="0.6" />
<line x1="268.93" y1="280.2" x2="268.93" y2="281.7" stroke="#666" stroke-width="0.6" />
<line x1="270.59" y1="280.2" x2="270.59" y2="281.7" stroke="#666" stroke-width="0.6" />
<line x1="272.06" y1="280.2" x2="272.06" y2="281.7" stroke="#666" stroke-width="0.6" />
<line x1="273.38" y1="280.2" x2="273.38" y2="282.7" stroke="#666" stroke-width="0.8" />
<text x="272.58" y="290.4" font-size="5.8" text-anchor="middle">10<tspan font-size="3.6" dy="-2.6">2</tspan></text>
<line x1="282.04" y1="280.2" x2="282.04" y2="281.7" stroke="#666" stroke-width="0.6" />
<line x1="287.1" y1="280.2" x2="287.1" y2="281.7" stroke="#666" stroke-width="0.6" />
<line x1="290.7" y1="280.2" x2="290.7" y2="281.7" stroke="#666" stroke-width="0.6" />
<line x1="293.48" y1="280.2" x2="293.48" y2="281.7" stroke="#666" stroke-width="0.6" />
<line x1="295.76" y1="280.2" x2="295.76" y2="281.7" stroke="#666" stroke-width="0.6" />
<line x1="297.69" y1="280.2" x2="297.69" y2="281.7" stroke="#666" stroke-width="0.6" />
<line x1="299.35" y1="280.2" x2="299.35" y2="281.7" stroke="#666" stroke-width="0.6" />
<line x1="300.82" y1="280.2" x2="300.82" y2="281.7" stroke="#666" stroke-width="0.6" />
<line x1="302.14" y1="280.2" x2="302.14" y2="282.7" stroke="#666" stroke-width="0.8" />
<text x="301.34" y="290.4" font-size="5.8" text-anchor="middle">10<tspan font-size="3.6" dy="-2.6">3</tspan></text>
<line x1="310.8" y1="280.2" x2="310.8" y2="281.7" stroke="#666" stroke-width="0.6" />
<line x1="315.86" y1="280.2" x2="315.86" y2="281.7" stroke="#666" stroke-width="0.6" />
<line x1="319.46" y1="280.2" x2="319.46" y2="281.7" stroke="#666" stroke-width="0.6" />
<line x1="322.24" y1="280.2" x2="322.24" y2="281.7" stroke="#666" stroke-width="0.6" />
<line x1="324.52" y1="280.2" x2="324.52" y2="281.7" stroke="#666" stroke-width="0.6" />
<line x1="326.45" y1="280.2" x2="326.45" y2="281.7" stroke="#666" stroke-width="0.6" />
<line x1="328.11" y1="280.2" x2="328.11" y2="281.7" stroke="#666" stroke-width="0.6" />
<line x1="329.58" y1="280.2" x2="329.58" y2="281.7" stroke="#666" stroke-width="0.6" />
<line x1="330.9" y1="280.2" x2="330.9" y2="282.7" stroke="#666" stroke-width="0.8" />
<text x="330.1" y="290.4" font-size="5.8" text-anchor="middle">10<tspan font-size="3.6" dy="-2.6">4</tspan></text>
<text x="259" y="299.8" font-size="6.5" text-anchor="middle" fill="#000" font-weight="normal" >R<tspan font-size="4.03" dy="1.43">h</tspan><tspan dy="-1.43"> (nm)</tspan></text>
<text x="178.6" y="222.35" font-size="5.8" text-anchor="middle" fill="#000" font-weight="normal" transform="rotate(-90 178.6 222.35)" >f(R<tspan font-size="3.6" dy="1.3">h</tspan><tspan dy="-1.3">)</tspan></text>
<polyline fill="none" stroke="#e0525a" stroke-width="0.85" stroke-linejoin="round" points="187.1,280.2 247.5,280.2 249.9,261.4 252.8,241.7 255.8,222 258.3,204.4 260.3,194.6 262.7,184.7 264.7,178.8 266.2,175.9 267.6,174.9 269.2,175.8 271.2,178.8 273.1,184.7 275.5,194.6 277.9,204.4 282.2,222 286.4,241.7 291.7,261.4 295.2,272.5 298.3,280.2 330.9,280.2" />
<polyline fill="none" stroke="#3fe04a" stroke-width="0.85" stroke-linejoin="round" points="187.1,280.2 218.3,280.2 219.53,266.51 220.77,255.31 222,246.6 223.23,240.38 224.47,236.64 225.7,235.4 226.88,236.64 228.07,240.38 229.25,246.6 230.43,255.31 231.62,266.51 232.8,280.2 262.2,280.2 263.2,255.57 264.2,234.22 265.2,216.15 266.2,201.38 267.2,189.88 268.2,181.67 269.2,176.74 270.2,175.1 271.96,176.74 273.73,181.67 275.49,189.88 277.25,201.38 279.01,216.15 280.77,234.22 282.54,255.57 284.3,280.2 330.9,280.2" />
<polyline fill="none" stroke="#3a3ad8" stroke-width="0.85" stroke-linejoin="round" points="187.1,280.2 228.3,280.2 231.2,263.2 234.5,280.2 256.4,280.2 259.1,226.9 262.1,280.2 275,280.2 275.65,248.15 276.3,221.92 276.95,201.53 277.6,186.96 278.25,178.21 278.9,175.3 279.93,178.21 280.97,186.96 282,201.53 283.03,221.92 284.07,248.15 285.1,280.2 330.9,280.2" />
<rect x="188.1" y="165.5" width="31.6" height="18.6" fill="#fff" stroke="#999" stroke-width="0.4"/>
<line x1="189.3" y1="168.7" x2="199.9" y2="168.7" stroke="#e0525a" stroke-width="0.85" />
<text x="202.2" y="170.5" font-size="5.0" text-anchor="start" fill="#000" font-weight="normal" >pH = 3</text>
<line x1="189.3" y1="174.7" x2="199.9" y2="174.7" stroke="#3fe04a" stroke-width="0.85" />
<text x="202.2" y="176.5" font-size="5.0" text-anchor="start" fill="#000" font-weight="normal" >pH = 7</text>
<line x1="189.3" y1="180.7" x2="199.9" y2="180.7" stroke="#3a3ad8" stroke-width="0.85" />
<text x="202.2" y="182.5" font-size="5.0" text-anchor="start" fill="#000" font-weight="normal" >pH = 10</text>
<text x="347.5" y="198.2" font-size="5.6" text-anchor="middle" fill="#222" class="e" textLength="24" lengthAdjust="spacingAndGlyphs">DMAEMA</text>
<text x="373.8" y="193.1" font-size="5.6" text-anchor="middle" fill="#222" class="e" textLength="19.5" lengthAdjust="spacingAndGlyphs">OEGMA</text>
<text x="355.5" y="241.5" font-size="6.3" text-anchor="middle" fill="#222" class="e" textLength="67" lengthAdjust="spacingAndGlyphs">P(DMAEMA-co-OEGMA)</text>
<text x="355.2" y="249.7" font-size="6.3" text-anchor="middle" fill="#222" class="e" textLength="53.8" lengthAdjust="spacingAndGlyphs">Random Copolymer</text>
<text x="433.2" y="189.4" font-size="6.3" text-anchor="middle" fill="#222" class="e" textLength="40" lengthAdjust="spacingAndGlyphs">Intramolecular</text>
<text x="433.3" y="197.4" font-size="6.3" text-anchor="middle" fill="#222" class="e" textLength="31.6" lengthAdjust="spacingAndGlyphs">self-folding</text>
<text x="433.2" y="220.5" font-size="6.3" text-anchor="middle" fill="#222" class="e" textLength="40" lengthAdjust="spacingAndGlyphs">Intermolecular</text>
<text x="432.8" y="228.4" font-size="6.3" text-anchor="middle" fill="#222" class="e" textLength="38.4" lengthAdjust="spacingAndGlyphs">self-assembly</text>
<text x="432.8" y="208.0" font-size="6.3" text-anchor="middle" fill="#222" class="e">H<tspan font-size="4.6">2</tspan>O</text>
<text x="432.8" y="239.3" font-size="6.3" text-anchor="middle" fill="#222" class="e">H<tspan font-size="4.6">2</tspan>O</text>
<text x="502.9" y="201.9" font-size="6.4" text-anchor="start" fill="#222" class="e" textLength="22.7" lengthAdjust="spacingAndGlyphs">Unimers</text>
<text x="516.1" y="233" font-size="6.6" text-anchor="start" fill="#222" class="e" textLength="31.6" lengthAdjust="spacingAndGlyphs">Aggregates</text>
<path d="M347.6 200.8 L336.4 208.2 M374.4 196.9 L361.2 205.3" stroke="#333" stroke-width="0.6" stroke-dasharray="1.8 0.9" fill="none"/>
<path d="M398.2 200.4 V232.4 M398.2 200.4 H465.5 M398.2 232.4 H465.5 M398.2 216.8 H376" stroke="#222" stroke-width="0.7" fill="none"/>
<path d="M468 200.4 l-3.4 -1.5 v3z M468 232.4 l-3.4 -1.5 v3z M374.4 216.8 l3.2 -1.5 v3z" fill="#222"/>
<circle cx="398.2" cy="200.4" r="0.9" fill="#222"/>
<circle cx="398.2" cy="216.8" r="0.9" fill="#222"/>
<circle cx="398.2" cy="232.4" r="0.9" fill="#222"/>
<path d="M335.4 217.2 L336.35 217.41 L337.31 217.58 L338.27 217.67 L339.23 217.66 L340.2 217.57 L341.17 217.43 L342.13 217.3 L343.1 217.21 L344.06 217.2 L345.02 217.29 L345.98 217.45 L346.93 217.67 L347.89 217.88 L348.84 218.05 L349.8 218.13 L350.77 218.13 L351.73 218.04 L352.7 217.9 L353.67 217.76 L354.63 217.67 L355.6 217.67 L356.56 217.75 L357.51 217.92 L358.47 218.13 L359.42 218.35 L360.38 218.51 L361.34 218.6 L362.3 218.59 L363.27 218.5 L364.23 218.37 L365.2 218.23 L366.17 218.14 L367.13 218.13 L368.09 218.22 L369.05 218.39 L370 218.6" stroke="#6b5a3a" stroke-width="0.7" fill="none"/>
<path d="M336.45 217.22 L336.83 216.94 L337.03 216.65 L337.01 216.36 L336.76 216.07 L336.35 215.78 L335.91 215.5 L335.54 215.21 L335.36 214.92 L335.41 214.63 L335.68 214.34 L336.09 214.06 L336.53 213.77 L336.88 213.48 L337.05 213.19 L336.97 212.9 L336.69 212.62 L336.26 212.33 L335.83 212.04 L335.49 211.75 L335.35 211.46 L335.45 211.18 L335.75 210.89 L336.18 210.6 M341.45 217.43 L341.83 217.14 L342.03 216.85 L342 216.56 L341.74 216.27 L341.33 215.98 L340.88 215.69 L340.52 215.39 L340.36 215.1 L340.42 214.81 L340.71 214.52 L341.14 214.23 L341.58 213.94 L341.92 213.65 L342.05 213.36 L341.94 213.07 L341.63 212.78 L341.19 212.49 L340.76 212.2 L340.45 211.91 L340.35 211.62 L340.49 211.33 L340.83 211.03 L341.27 210.74 L341.7 210.45 L341.98 210.16 L342.04 209.87 L341.87 209.58 L341.51 209.29 L341.06 209 M351.75 217.85 L352.13 217.56 L352.33 217.27 L352.31 216.99 L352.06 216.7 L351.65 216.41 L351.21 216.12 L350.84 215.84 L350.66 215.55 L350.71 215.26 L350.98 214.97 L351.39 214.68 L351.83 214.4 L352.18 214.11 L352.35 213.82 L352.27 213.53 L351.99 213.24 L351.57 212.96 L351.13 212.67 L350.79 212.38 L350.65 212.09 L350.75 211.8 L351.05 211.52 L351.48 211.23 L351.91 210.94 L352.23 210.65 L352.35 210.36 L352.23 210.08 L351.91 209.79 L351.48 209.5 M366.05 218.44 L366.43 218.15 L366.63 217.86 L366.61 217.57 L366.36 217.28 L365.95 217 L365.51 216.71 L365.14 216.42 L364.96 216.13 L365.01 215.84 L365.28 215.56 L365.69 215.27 L366.13 214.98 L366.48 214.69 L366.65 214.4 L366.57 214.12 L366.29 213.83 L365.87 213.54 L365.43 213.25 L365.09 212.96 L364.95 212.68 L365.05 212.39 L365.35 212.1 M338.15 217.31 L337.78 217.6 L337.57 217.88 L337.59 218.17 L337.83 218.45 L338.22 218.74 L338.66 219.02 L339.03 219.3 L339.23 219.59 L339.21 219.87 L338.97 220.16 L338.57 220.44 L338.13 220.73 L337.76 221.01 L337.57 221.29 L337.59 221.58 L337.84 221.86 L338.24 222.15 L338.68 222.43 L339.04 222.72 L339.23 223 M348.25 217.73 L347.87 218.02 L347.67 218.31 L347.7 218.6 L347.96 218.9 L348.38 219.19 L348.83 219.48 L349.18 219.77 L349.35 220.06 L349.27 220.36 L348.97 220.65 L348.54 220.94 L348.1 221.23 L347.77 221.52 L347.65 221.82 L347.77 222.11 L348.1 222.4 M358.35 218.14 L357.98 218.43 L357.77 218.71 L357.79 218.99 L358.02 219.28 L358.41 219.56 L358.85 219.84 L359.23 220.13 L359.43 220.41 L359.41 220.7 L359.17 220.98 L358.78 221.26 L358.34 221.55 L357.97 221.83 L357.77 222.11 L357.79 222.4 L358.03 222.68 L358.42 222.97 L358.86 223.25 L359.23 223.53 L359.43 223.82 L359.41 224.1 M368.35 218.55 L367.97 218.84 L367.77 219.13 L367.8 219.42 L368.06 219.72 L368.47 220.01 L368.92 220.3 L369.28 220.59 L369.45 220.88 L369.37 221.17 L369.08 221.46 L368.66 221.75 L368.21 222.04 L367.88 222.34 L367.75 222.63 L367.86 222.92 L368.18 223.21 L368.62 223.5" stroke="#cc2338" stroke-width="1.1" fill="none" stroke-linecap="round"/>
<path d="M346.88 217.65 L347.31 217.26 L347.53 216.86 L347.5 216.47 L347.21 216.08 L346.75 215.69 L346.25 215.29 L345.85 214.9 L345.66 214.51 L345.73 214.11 L346.05 213.72 L346.52 213.33 L347.02 212.94 L347.4 212.54 L347.55 212.15 L347.44 211.76 L347.09 211.36 L346.6 210.97 L346.12 210.58 L345.77 210.19 L345.65 209.79 L345.8 209.4 L346.18 209.01 L346.67 208.61 L347.15 208.22 L347.47 207.83 L347.54 207.44 L347.36 207.04 L346.95 206.65 L346.45 206.26 L345.99 205.86 L345.71 205.47 L345.67 205.08 L345.89 204.69 L346.32 204.29 L346.82 203.9 M357.18 218.07 L357.6 217.69 L357.83 217.3 L357.8 216.91 L357.54 216.53 L357.1 216.14 L356.6 215.76 L356.19 215.37 L355.97 214.99 L356 214.6 L356.28 214.21 L356.72 213.83 L357.22 213.44 L357.62 213.06 L357.84 212.67 L357.79 212.29 L357.51 211.9 L357.06 211.51 L356.57 211.13 L356.16 210.74 L355.96 210.36 L356.01 209.97 L356.31 209.59 L356.76 209.2 L357.25 208.81 L357.65 208.43 L357.84 208.04 L357.78 207.66 L357.48 207.27 L357.02 206.89 L356.53 206.5 M361.08 218.23 L361.5 217.84 L361.73 217.45 L361.7 217.06 L361.42 216.67 L360.97 216.28 L360.47 215.89 L360.06 215.5 L359.86 215.11 L359.92 214.72 L360.22 214.33 L360.69 213.94 L361.18 213.55 L361.57 213.16 L361.75 212.77 L361.66 212.38 L361.33 211.98 L360.86 211.59 L360.37 211.2 L360 210.81 L359.85 210.42 L359.97 210.03 L360.32 209.64 L360.8 209.25 L361.28 208.86 L361.63 208.47 L361.75 208.08 L361.6 207.69 L361.24 207.3 M343.12 217.52 L342.7 217.91 L342.47 218.3 L342.5 218.68 L342.77 219.07 L343.22 219.46 L343.72 219.85 L344.13 220.24 L344.34 220.62 L344.29 221.01 L344 221.4 L343.54 221.79 L343.05 222.18 L342.65 222.57 L342.46 222.95 L342.52 223.34 L342.83 223.73 L343.29 224.12 L343.79 224.51 L344.17 224.89 L344.35 225.28 L344.26 225.67 L343.94 226.06 L343.47 226.45 L342.98 226.84 L342.61 227.22 L342.45 227.61 L342.56 228 M352.72 217.91 L352.29 218.3 L352.07 218.7 L352.1 219.09 L352.39 219.48 L352.85 219.88 L353.35 220.27 L353.75 220.66 L353.94 221.05 L353.87 221.45 L353.55 221.84 L353.08 222.23 L352.58 222.62 L352.21 223.02 L352.05 223.41 L352.16 223.8 L352.51 224.2 L352.99 224.59 L353.48 224.98 L353.83 225.37 L353.95 225.77 L353.8 226.16 L353.43 226.55 L352.93 226.94 L352.46 227.34 L352.14 227.73 L352.06 228.12 L352.24 228.51 L352.64 228.91 L353.14 229.3 M362.72 218.32 L362.3 218.71 L362.07 219.09 L362.09 219.48 L362.36 219.86 L362.8 220.24 L363.29 220.63 L363.71 221.01 L363.93 221.4 L363.9 221.78 L363.63 222.17 L363.19 222.55 L362.7 222.94 L362.29 223.32 L362.07 223.71 L362.1 224.09 L362.37 224.48 L362.82 224.86 L363.31 225.25 L363.72 225.63 L363.93 226.01 L363.9 226.4 L363.62 226.78 L363.17 227.17 L362.68 227.55 L362.27 227.94 L362.06 228.32 L362.11 228.71 L362.39 229.09 L362.84 229.48 L363.33 229.86 L363.73 230.25 L363.94 230.63 L363.89 231.02 L363.6 231.4" stroke="#42b04a" stroke-width="1.05" fill="none" stroke-linecap="round"/>
<circle cx="487.7" cy="199.5" r="5.2" fill="#f6eeee"/>
<path d="M484.84 193.54 L484.94 193.1 L484.87 192.75 L484.61 192.51 L484.18 192.37 L483.65 192.28 L483.13 192.18 L482.73 192.02 L482.5 191.76 L482.47 191.4 L482.6 190.94 L482.81 190.44 L482.99 189.96 L483.04 189.55 L482.91 189.24 M489.22 193.07 L489.58 192.79 L489.75 192.48 L489.69 192.13 L489.45 191.74 L489.1 191.34 L488.76 190.94 L488.54 190.56 L488.53 190.22 L488.74 189.91 L489.12 189.64 L489.6 189.38 L490.04 189.12 L490.34 188.83 L490.44 188.51 M491.43 194.04 L491.86 193.91 L492.13 193.68 L492.2 193.33 L492.11 192.88 L491.93 192.38 L491.76 191.89 L491.69 191.46 L491.8 191.13 L492.1 190.92 L492.56 190.81 L493.1 190.74 L493.61 190.65 L493.99 190.49 L494.19 190.22 M494.03 197.6 L494.45 197.78 L494.81 197.76 L495.08 197.54 L495.29 197.14 L495.47 196.63 L495.64 196.14 L495.86 195.76 L496.15 195.58 L496.52 195.6 L496.95 195.8 L497.41 196.09 L497.86 196.34 L498.26 196.46 L498.59 196.37 M494.29 200 L494.62 200.31 L494.96 200.43 L495.29 200.32 L495.64 200.01 L495.98 199.6 L496.32 199.21 L496.66 198.93 L497 198.87 L497.33 199.02 L497.66 199.36 L497.99 199.79 L498.32 200.19 L498.65 200.44 L498.98 200.48 M492.51 204.04 L492.57 204.49 L492.76 204.79 L493.09 204.91 L493.54 204.89 L494.07 204.79 L494.58 204.7 L495.02 204.7 L495.33 204.86 L495.48 205.19 L495.53 205.66 L495.51 206.2 L495.52 206.72 L495.62 207.12 L495.85 207.37 M490.56 205.46 L490.46 205.9 L490.53 206.25 L490.79 206.49 L491.22 206.63 L491.75 206.72 L492.27 206.82 L492.67 206.98 L492.9 207.24 L492.93 207.6 L492.8 208.06 L492.59 208.56 L492.41 209.04 L492.36 209.45 L492.49 209.76 M486.18 205.93 L485.82 206.21 L485.65 206.52 L485.71 206.87 L485.95 207.26 L486.3 207.66 L486.64 208.06 L486.86 208.44 L486.87 208.78 L486.66 209.09 L486.28 209.36 L485.8 209.62 L485.36 209.88 L485.06 210.17 L484.96 210.49 M483.97 204.96 L483.54 205.09 L483.27 205.32 L483.2 205.67 L483.29 206.12 L483.47 206.62 L483.64 207.11 L483.71 207.54 L483.6 207.87 L483.3 208.08 L482.84 208.19 L482.3 208.26 L481.79 208.35 L481.41 208.51 L481.21 208.78 M481.37 201.4 L480.95 201.22 L480.59 201.24 L480.32 201.46 L480.11 201.86 L479.93 202.37 L479.76 202.86 L479.54 203.24 L479.25 203.42 L478.88 203.4 L478.45 203.2 L477.99 202.91 L477.54 202.66 L477.14 202.54 L476.81 202.63 M481.11 199 L480.78 198.69 L480.44 198.57 L480.11 198.68 L479.76 198.99 L479.42 199.4 L479.08 199.79 L478.74 200.07 L478.4 200.13 L478.07 199.98 L477.74 199.64 L477.41 199.21 L477.08 198.81 L476.75 198.56 L476.42 198.52 M482.89 194.96 L482.83 194.51 L482.64 194.21 L482.31 194.09 L481.86 194.11 L481.33 194.21 L480.82 194.3 L480.38 194.3 L480.07 194.14 L479.92 193.81 L479.87 193.34 L479.89 192.8 L479.88 192.28 L479.78 191.88 L479.55 191.63" stroke="#42b04a" stroke-width="1.3" fill="none" stroke-linecap="round"/>
<path d="M487.65 197.35 L487.84 197.1 L487.82 196.79 L487.62 196.43 L487.31 196.05 L487.02 195.66 L486.84 195.31 L486.84 195.01 L487.06 194.76 L487.44 194.56 L487.91 194.37 L488.34 194.18 L488.63 193.95 L488.72 193.67 L488.61 193.34 L488.35 192.97 M488.64 199.45 L489.04 199.46 L489.37 199.25 L489.65 198.87 L489.9 198.38 L490.15 197.9 L490.43 197.54 L490.77 197.36 L491.18 197.39 L491.63 197.58 L492.11 197.86 L492.58 198.1 L493.01 198.2 L493.37 198.11 L493.68 197.81 L493.94 197.37 M489.8 199.93 L490.01 200.17 L490.32 200.22 L490.71 200.1 L491.15 199.89 L491.59 199.69 L491.98 199.59 L492.27 199.66 L492.46 199.93 L492.58 200.35 L492.65 200.84 L492.74 201.3 L492.9 201.64 L493.15 201.79 L493.5 201.76 L493.93 201.59 M487.54 200.43 L487.44 200.82 L487.57 201.19 L487.88 201.54 L488.3 201.89 L488.71 202.24 L489.01 202.6 L489.1 202.97 L488.98 203.36 L488.69 203.76 L488.32 204.16 L487.98 204.57 L487.79 204.96 L487.8 205.34 L488.01 205.7 L488.39 206.06 M486.82 201.46 L486.53 201.6 L486.42 201.89 L486.44 202.3 L486.55 202.78 L486.65 203.25 L486.66 203.65 L486.52 203.92 L486.22 204.05 L485.78 204.07 L485.29 204.03 L484.82 204.02 L484.46 204.09 L484.25 204.31 L484.21 204.66 L484.28 205.11 M486.83 199.13 L486.47 198.96 L486.08 199 L485.67 199.22 L485.23 199.56 L484.8 199.88 L484.39 200.08 L484 200.1 L483.65 199.89 L483.33 199.52 L483.01 199.07 L482.7 198.65 L482.36 198.37 L481.98 198.29 L481.58 198.43 L481.16 198.71 M485.99 198.2 L485.91 197.89 L485.65 197.72 L485.25 197.65 L484.76 197.65 L484.27 197.64 L483.88 197.56 L483.65 197.37 L483.59 197.04 L483.68 196.62 L483.82 196.14 L483.94 195.69 L483.94 195.32 L483.78 195.07 L483.45 194.95 L483 194.92" stroke="#cc2338" stroke-width="1.05" fill="none" stroke-linecap="round"/>
<circle cx="492.8" cy="234.0" r="8.8" fill="#e9ece6" stroke="#b9c2b4" stroke-width="0.4" stroke-dasharray="0.8 0.6"/>
<path d="M493.21 225.4 L493.64 224.75 L493.84 224.1 L493.75 223.45 L493.4 222.8 L492.87 222.15 L492.33 221.5 L491.92 220.85 L491.75 220.2 L491.88 219.55 L492.26 218.9 L492.79 218.25 L493.33 217.6 L493.72 216.95 L493.85 216.3 L493.69 215.65 L493.28 215 L492.74 214.35 L492.22 213.7 L491.85 213.05 L491.75 212.4 M496.29 226.13 L496.93 225.68 L497.35 225.15 L497.5 224.51 L497.4 223.77 L497.15 222.98 L496.88 222.17 L496.73 221.42 L496.81 220.75 L497.16 220.19 L497.75 219.72 L498.48 219.31 L499.22 218.9 L499.81 218.43 L500.17 217.87 L500.26 217.21 L500.12 216.46 L499.85 215.66 L499.59 214.86 L499.49 214.12 L499.63 213.48 M498.9 227.92 L499.66 227.73 L500.24 227.39 L500.61 226.85 L500.79 226.13 L500.84 225.29 L500.87 224.45 L501.01 223.69 L501.32 223.09 L501.85 222.7 L502.57 222.48 L503.4 222.35 L504.24 222.24 L504.96 222.02 L505.5 221.63 L505.82 221.04 L505.96 220.29 L506 219.44 L506.05 218.61 L506.21 217.88 L506.58 217.33 M500.68 230.53 L501.46 230.63 L502.13 230.52 L502.67 230.15 L503.09 229.54 L503.44 228.78 L503.78 228.01 L504.18 227.35 L504.69 226.91 L505.32 226.73 L506.08 226.78 L506.89 226.97 L507.72 227.16 L508.47 227.22 L509.11 227.05 L509.62 226.62 L510.02 225.96 L510.36 225.19 L510.71 224.43 L511.13 223.81 L511.67 223.44 M501.4 233.61 L502.09 233.99 L502.75 234.13 L503.39 233.98 L504.01 233.56 L504.61 232.98 L505.2 232.38 L505.81 231.91 L506.44 231.68 L507.1 231.75 L507.79 232.07 L508.48 232.54 L509.18 233.01 L509.86 233.34 L510.52 233.41 L511.15 233.19 L511.76 232.73 L512.36 232.13 L512.96 231.55 L513.57 231.12 L514.21 230.97 M500.96 236.75 L501.47 237.34 L502.04 237.71 L502.69 237.8 L503.41 237.64 L504.18 237.31 L504.95 236.97 L505.69 236.75 L506.36 236.77 L506.95 237.07 L507.47 237.61 L507.95 238.3 L508.43 238.99 L508.95 239.55 L509.54 239.85 L510.21 239.88 L510.94 239.67 L511.72 239.32 L512.48 238.99 L513.21 238.82 L513.86 238.9 M499.42 239.51 L499.67 240.25 L500.07 240.8 L500.64 241.12 L501.38 241.23 L502.21 241.2 L503.06 241.16 L503.83 241.22 L504.44 241.48 L504.89 241.97 L505.18 242.67 L505.37 243.48 L505.57 244.3 L505.85 245.01 L506.29 245.5 L506.91 245.77 L507.67 245.84 L508.52 245.8 L509.35 245.77 L510.09 245.87 L510.67 246.18 M496.98 241.53 L496.95 242.31 L497.12 242.97 L497.54 243.47 L498.19 243.84 L498.97 244.11 L499.78 244.38 L500.47 244.72 L500.96 245.18 L501.19 245.8 L501.21 246.55 L501.1 247.39 L500.99 248.22 L501 248.98 L501.23 249.6 L501.7 250.07 L502.39 250.41 L503.19 250.68 L503.98 250.95 L504.63 251.31 L505.06 251.81 M493.98 242.53 L493.67 243.25 L493.59 243.92 L493.8 244.55 L494.27 245.12 L494.9 245.66 L495.56 246.2 L496.08 246.76 L496.37 247.37 L496.36 248.03 L496.11 248.74 L495.7 249.48 L495.3 250.22 L495.03 250.93 L495.02 251.59 L495.3 252.2 L495.81 252.77 L496.47 253.3 L497.1 253.85 L497.58 254.42 L497.8 255.04 M490.82 242.38 L490.27 242.94 L489.95 243.54 L489.92 244.2 L490.15 244.9 L490.55 245.63 L490.96 246.37 L491.25 247.09 L491.3 247.76 L491.05 248.37 L490.56 248.94 L489.91 249.48 L489.27 250.02 L488.77 250.59 L488.52 251.21 L488.55 251.87 L488.83 252.59 L489.25 253.33 L489.64 254.06 L489.88 254.77 L489.86 255.42 M487.93 241.1 L487.21 241.42 L486.7 241.87 L486.44 242.47 L486.4 243.21 L486.5 244.04 L486.62 244.87 L486.63 245.64 L486.43 246.29 L485.98 246.77 L485.31 247.12 L484.52 247.4 L483.72 247.67 L483.05 248.01 L482.59 248.5 L482.38 249.13 L482.39 249.9 L482.5 250.74 L482.61 251.57 L482.58 252.31 L482.32 252.92 M485.69 238.86 L484.91 238.9 L484.27 239.13 L483.81 239.6 L483.5 240.27 L483.3 241.08 L483.11 241.91 L482.84 242.63 L482.42 243.15 L481.83 243.45 L481.08 243.53 L480.24 243.5 L479.4 243.46 L478.64 243.54 L478.04 243.83 L477.62 244.35 L477.35 245.06 L477.15 245.89 L476.95 246.7 L476.65 247.38 L476.19 247.85 M484.42 235.96 L483.67 235.72 L482.99 235.7 L482.39 235.97 L481.86 236.49 L481.38 237.17 L480.91 237.87 L480.39 238.45 L479.81 238.79 L479.15 238.84 L478.42 238.65 L477.65 238.32 L476.88 237.98 L476.15 237.79 L475.49 237.83 L474.91 238.16 L474.39 238.73 L473.92 239.43 L473.43 240.12 L472.91 240.64 L472.31 240.92 M484.27 232.8 L483.67 232.31 L483.04 232.05 L482.38 232.08 L481.7 232.37 L481.01 232.83 L480.31 233.31 L479.62 233.66 L478.96 233.77 L478.33 233.59 L477.71 233.15 L477.12 232.56 L476.52 231.96 L475.91 231.51 L475.27 231.32 L474.61 231.42 L473.93 231.76 L473.23 232.24 L472.53 232.71 L471.85 233.01 L471.2 233.05 M485.28 229.8 L484.9 229.12 L484.4 228.65 L483.78 228.44 L483.04 228.47 L482.23 228.65 L481.4 228.85 L480.64 228.93 L479.98 228.79 L479.45 228.39 L479.04 227.75 L478.7 226.99 L478.35 226.22 L477.95 225.58 L477.42 225.17 L476.77 225.02 L476.01 225.1 L475.18 225.29 L474.37 225.47 L473.62 225.51 L473 225.31 M487.31 227.37 L487.19 226.6 L486.9 225.98 L486.4 225.56 L485.7 225.32 L484.87 225.19 L484.03 225.08 L483.29 224.88 L482.73 224.51 L482.38 223.94 L482.23 223.21 L482.18 222.37 L482.14 221.53 L481.99 220.78 L481.65 220.21 L481.1 219.84 L480.36 219.63 L479.52 219.52 L478.69 219.39 L477.99 219.16 L477.48 218.74 M490.07 225.83 L490.25 225.07 L490.2 224.39 L489.88 223.82 L489.31 223.34 L488.59 222.92 L487.85 222.51 L487.23 222.06 L486.84 221.51 L486.72 220.86 L486.84 220.12 L487.1 219.32 L487.37 218.52 L487.49 217.77 L487.38 217.12 L487 216.57 L486.39 216.11 L485.65 215.7 L484.92 215.28 L484.35 214.81 L484.02 214.24" stroke="#42b04a" stroke-width="1.25" fill="none" stroke-linecap="round"/>
<path d="M493.43 234.04 L493.88 234.12 L494.28 234.1 L494.61 233.95 L494.86 233.65 L495.06 233.25 L495.23 232.8 L495.42 232.39 L495.67 232.08 L495.98 231.91 L496.38 231.88 L496.82 231.95 L497.29 232.06 L497.73 232.13 L498.13 232.1 L498.44 231.92 L498.69 231.61 L498.88 231.2 L499.05 230.75 L499.25 230.35 M494.9 235.63 L494.93 235.98 L495.09 236.24 L495.37 236.4 L495.75 236.49 L496.18 236.54 L496.59 236.61 L496.92 236.74 L497.12 236.96 L497.19 237.29 L497.16 237.68 L497.09 238.11 L497.05 238.52 L497.1 238.86 L497.27 239.11 L497.56 239.26 L497.96 239.34 L498.39 239.39 L498.79 239.46 L499.1 239.61 M492.99 235.24 L493.11 235.58 L493.32 235.82 L493.64 235.92 L494.04 235.93 L494.48 235.89 L494.9 235.87 L495.26 235.93 L495.52 236.11 L495.68 236.41 L495.75 236.81 L495.79 237.25 L495.85 237.67 L495.98 238 L496.2 238.22 L496.53 238.31 L496.94 238.31 L497.38 238.27 L497.8 238.26 L498.15 238.33 M491.76 236.18 L491.39 236.27 L491.13 236.46 L490.99 236.76 L490.95 237.15 L490.96 237.6 L490.97 238.03 L490.9 238.39 L490.72 238.66 L490.43 238.81 L490.03 238.88 L489.59 238.9 L489.16 238.93 L488.81 239.03 L488.56 239.23 L488.44 239.54 L488.41 239.95 L488.42 240.39 L488.42 240.81 L488.34 241.17 M491.49 235.35 L491.33 235.77 L491.17 236.19 L490.97 236.53 L490.7 236.75 L490.36 236.81 L489.96 236.76 L489.52 236.64 L489.09 236.53 L488.69 236.49 L488.37 236.59 L488.12 236.84 L487.93 237.21 L487.77 237.63 L487.61 238.05 L487.4 238.38 L487.13 238.57 L486.78 238.62 L486.37 238.55 L485.93 238.43 M490.93 234.58 L490.55 234.53 L490.22 234.6 L489.97 234.82 L489.78 235.16 L489.63 235.58 L489.47 235.99 L489.27 236.32 L489.01 236.52 L488.68 236.57 L488.29 236.5 L487.86 236.36 L487.44 236.23 L487.07 236.19 L486.75 236.28 L486.51 236.52 L486.33 236.88 L486.17 237.29 L486.01 237.7 L485.81 238.01 M492.65 233.38 L492.25 233.2 L491.76 233.12 L491.23 233.1 L490.71 233.07 L490.25 232.96 L489.89 232.74 L489.62 232.38 L489.43 231.93 L489.28 231.42 L489.13 230.93 L488.91 230.51 L488.59 230.22 L488.18 230.05 L487.69 229.98 L487.16 229.96 L486.64 229.93 L486.19 229.81 L485.84 229.56 L485.58 229.2 M491.16 232 L490.81 231.79 L490.44 231.59 L490.15 231.36 L490 231.11 L490 230.82 L490.14 230.5 L490.37 230.16 L490.61 229.81 L490.77 229.49 L490.79 229.19 L490.65 228.93 L490.38 228.71 L490.02 228.5 L489.66 228.29 L489.39 228.06 L489.25 227.81 L489.27 227.51 L489.43 227.19 L489.66 226.84 M492.88 232.53 L493.02 232.15 L493.04 231.8 L492.89 231.48 L492.6 231.2 L492.23 230.94 L491.86 230.67 L491.57 230.39 L491.42 230.07 L491.42 229.72 L491.56 229.34 L491.79 228.94 L492 228.55 L492.14 228.17 L492.13 227.82 L491.97 227.51 L491.67 227.23 L491.29 226.96 L490.92 226.7 L490.65 226.41 M494.18 231.46 L493.94 231.29 L493.6 231.17 L493.22 231.05 L492.9 230.92 L492.69 230.75 L492.63 230.52 L492.71 230.23 L492.9 229.91 L493.11 229.58 L493.27 229.27 L493.31 229.01 L493.19 228.8 L492.93 228.64 L492.58 228.52 L492.21 228.4 L491.89 228.27 L491.7 228.09 L491.66 227.85 L491.76 227.56 M494.24 232.98 L494.2 232.55 L494.21 232.15 L494.32 231.84 L494.55 231.63 L494.9 231.52 L495.32 231.47 L495.76 231.43 L496.14 231.36 L496.43 231.19 L496.59 230.93 L496.64 230.56 L496.61 230.13 L496.58 229.7 L496.59 229.31 L496.72 229.01 L496.96 228.81 L497.32 228.71 L497.75 228.67 L498.18 228.63" stroke="#cc2338" stroke-width="0.7" fill="none" stroke-linecap="round"/>
<path d="M488.3 231.5 L488.69 231.94 L489.1 232.31 L489.55 232.58 L490.06 232.72 L490.62 232.76 L491.2 232.73 L491.78 232.71 L492.34 232.75 L492.85 232.89 L493.3 233.16 L493.71 233.53 L494.1 233.97 L494.49 234.4 L494.9 234.78 L495.35 235.04 L495.86 235.19 L496.42 235.22 L497 235.2 M491.8 237 L492.26 237.15 L492.7 237.23 L493.14 237.22 L493.56 237.1 L493.97 236.89 L494.37 236.62 L494.77 236.37 L495.18 236.18 L495.6 236.09 L496.04 236.12 L496.5 236.23 L496.95 236.39 L497.41 236.52 L497.85 236.58" stroke="#cc2338" stroke-width="1.3" fill="none" stroke-linecap="round"/>
</svg></body></html>
